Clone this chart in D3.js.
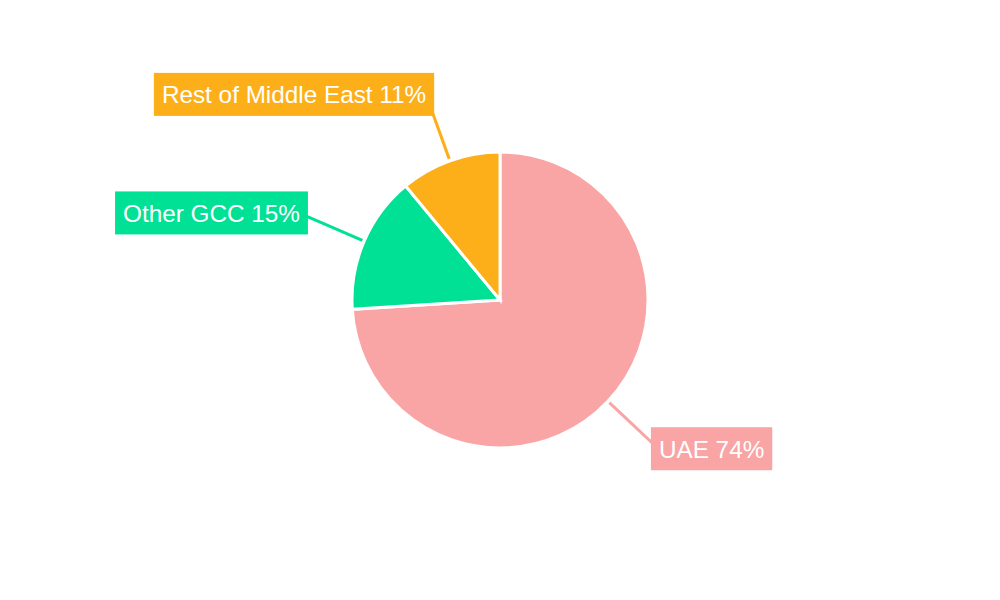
<!DOCTYPE html>
<html lang="en">
<head>
    <meta charset="UTF-8">
    <title>Region share</title>
    <script src="https://cdn.jsdelivr.net/npm/d3@7/dist/d3.min.js"></script>
    <style>
        body { margin: 0; background: #fff; }
        text { font-family: "Liberation Sans", Arial, sans-serif; }
    </style>
</head>
<body>
<div id="chartArea"></div>
<script>
    'use strict';

    // Shares (percent).
    const regions = ['UAE', 'Other GCC', 'Rest of Middle East'];
    const shares = [74, 15, 11];
    const colors = ['#f9a4a5', '#01e195', '#fdaf1a'];

    const width = 1000, height = 600;
    const cx = 500, cy = 300, radius = 148;
    const labelRadius = 218;

    const svg = d3.select('#chartArea').append('svg')
        .attr('width', width).attr('height', height);

    const g = svg.append('g').attr('transform', `translate(${cx},${cy})`);

    const data = regions.map((name, i) => ({ name: name, value: shares[i], color: colors[i] }));

    const pie = d3.pie().value(d => d.value).sort(null);
    const arcs = pie(data);

    const arc = d3.arc().innerRadius(0).outerRadius(radius);

    g.selectAll('path.slice').data(arcs).enter().append('path')
        .attr('class', 'slice')
        .attr('d', arc)
        .attr('fill', d => d.data.color)
        .attr('stroke', '#fff')
        .attr('stroke-width', 3);

    const mid = d => (d.startAngle + d.endAngle) / 2;
    const pt = (a, r) => [Math.sin(a) * r, -Math.cos(a) * r];

    // leader lines, drawn under the label boxes
    g.selectAll('line.leader').data(arcs).enter().append('line')
        .attr('class', 'leader')
        .attr('x1', d => pt(mid(d), radius + 2)[0])
        .attr('y1', d => pt(mid(d), radius + 2)[1])
        .attr('x2', d => pt(mid(d), labelRadius)[0])
        .attr('y2', d => pt(mid(d), labelRadius)[1])
        .attr('stroke', d => d.data.color)
        .attr('stroke-width', 3);

    const labels = g.selectAll('g.label').data(arcs).enter().append('g')
        .attr('class', 'label')
        .attr('transform', d => `translate(${pt(mid(d), labelRadius)})`);

    labels.append('text')
        .attr('text-anchor', d => mid(d) < Math.PI ? 'start' : 'end')
        .attr('dy', '0.35em')
        .attr('fill', '#fff')
        .attr('font-size', 24.3)
        .text(d => `${d.data.name} ${d.data.value}%`);

    labels.each(function () {
        const lbl = d3.select(this);
        const bb = lbl.select('text').node().getBBox();
        lbl.insert('rect', 'text')
            .attr('x', bb.x - 8)
            .attr('y', -22)
            .attr('width', bb.width + 16)
            .attr('height', 43)
            .attr('fill', d => d.data.color);
    });
</script>
</body>
</html>
